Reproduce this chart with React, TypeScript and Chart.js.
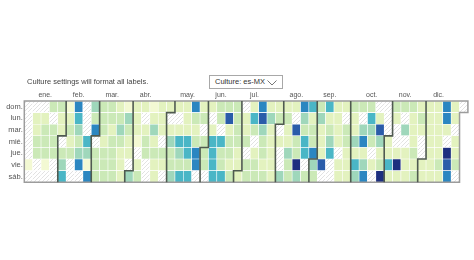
import React, { useEffect, useRef } from 'react';
import { Chart, registerables } from 'chart.js';

Chart.register(...registerables);

const YEAR = 2017;
const titleText = 'Culture settings will format all labels.';
const cultureText = 'Culture: es-MX';
const dayLabels = ['dom.', 'lun.', 'mar.', 'mié.', 'jue.', 'vie.', 'sáb.'];
const monthLabels = ['ene.', 'feb.', 'mar.', 'abr.', 'may.', 'jun.', 'jul.', 'ago.', 'sep.', 'oct.', 'nov.', 'dic.'];

const _ = null;
// daily values per month (null = no data)
const ene = [_, _, _, _, _, 10, _, _, 22, 22, 34, 34, _, _, _, 22, 34, 34, 34, 10, _, 34, _, 34, 34, 34, _, _, 34, 22, 22];
const feb = [_, 34, 46, 58, 10, 22, 34, 22, 34, _, _, 70, 58, 46, 34, 46, 70, _, _, _, _, 58, 46, 10, 70, 46, 34, 70];
const mar = [_, 34, 34, 34, 34, 34, 34, 22, 34, 34, 34, 34, 34, 22, 34, 34, 34, 34, 22, 34, 46, 34, 22, 22, 22, 10, 46, 34, 22, 22, _];
const abr = [46, 22, 22, 22, 10, _, 22, 34, 22, _, 22, 34, 34, _, _, 10, 22, 46, 22, 34, 22, 22, 22, 22, 22, _, 34, 22, _, 22];
const may = [_, 22, 46, 34, 34, 46, 22, _, 22, 58, 46, 34, 58, 22, 22, 22, 58, 58, 34, 58, 70, 34, 22, 34, 70, 70, _, 22, 34, _, 34];
const jun = [34, 34, _, 22, _, 22, 58, 58, 58, 58, 34, 34, _, 58, 34, 34, 58, 34, 82, 22, 34, 34, 22, 34, 34, 34, 34, 34, 22, 22];
const jul = [22, _, 22, 22, 34, _, 34, 34, 22, 58, 34, _, 22, 34, 34, 70, 82, 46, 34, 34, 22, 34, 22, 46, 22, 22, 22, 22, 22, 22, 34];
const ago = [_, 22, _, _, 46, 22, 34, 22, 22, 46, 34, 34, 22, _, 82, 34, 34, 94, 46, 70, 46, 34, 58, 58, _, 34, 58, 22, 34, 34, 70];
const sep = [46, 34, 34, 46, 22, 22, 22, 82, _, 58, 22, 34, 46, 58, _, _, 22, 22, 22, 22, _, 22, 22, 22, _, 34, 34, 22, 22, 22];
const oct = [34, 22, 22, 46, 22, 58, 46, 34, _, 46, 70, 22, 46, 70, 34, 58, 46, 34, _, 22, _, _, 22, 82, 46, 22, 34, 94, _, _, _];
const nov = [22, 22, 58, 22, 34, 22, _, _, 22, 94, 22, 34, _, 46, _, 22, 22, 22, 34, 22, 22, 22, 34, 22, 34, 22, 34, 22, _, _];
const dic = [22, 22, 22, 22, 22, 22, 22, 22, 22, 22, 22, 22, 22, 22, 34, 22, 70, 70, 22, _, 94, 82, 70, 22, 22, _, 22, 22, 34, _, _];

const months = [ene, feb, mar, abr, may, jun, jul, ago, sep, oct, nov, dic];

const levelColors = ['#f3f9d3', '#e3f2bf', '#cbe9b7', '#9fd7bb', '#4ab6c6', '#2b86c1', '#2a5ca9', '#1d2f7f'];
const thresholds = [16, 28, 40, 52, 64, 76, 88];

const FONT = "'Liberation Sans', Arial, sans-serif";

function makeHatch(): CanvasPattern | string {
  const c = document.createElement('canvas');
  c.width = 4;
  c.height = 4;
  const g = c.getContext('2d');
  if (!g) return '#fff';
  g.fillStyle = '#ffffff';
  g.fillRect(0, 0, 4, 4);
  g.strokeStyle = '#e2e2e2';
  g.lineWidth = 1;
  g.beginPath();
  g.moveTo(0, 4); g.lineTo(4, 0);
  g.moveTo(-1, 1); g.lineTo(1, -1);
  g.moveTo(3, 5); g.lineTo(5, 3);
  g.stroke();
  return g.createPattern(c, 'repeat') || '#fff';
}

export default function App() {
  const ref = useRef<HTMLCanvasElement | null>(null);

  useEffect(() => {
    if (!ref.current) return;
    const hatch = makeHatch();
    const colorFor = (v: number | null) => {
      if (v == null) return hatch;
      let i = 0;
      while (i < thresholds.length && v >= thresholds[i]) i++;
      return levelColors[i];
    };
    const startDow = new Date(YEAR, 0, 1).getDay();
    const dayMs = 864e5;
    const monthStart = months.map((__, m) => Math.round((Date.UTC(YEAR, m, 1) - Date.UTC(YEAR, 0, 1)) / dayMs));
    const totalDays = months.reduce((s, a) => s + a.length, 0);
    const numWeeks = Math.floor((startDow + totalDays - 1) / 7) + 1;

    const points: any[] = [];
    months.forEach((arr, m) => {
      arr.forEach((v, i) => {
        const idx = startDow + monthStart[m] + i;
        const r = idx % 7;
        points.push({ x: Math.floor(idx / 7), y: [r, r + 1], v });
      });
    });
    const monthTicks = months.map((__, m) => Math.floor((startDow + monthStart[m] + 14) / 7));

    const borderPlugin = {
      id: 'calendarBorders',
      afterDatasetsDraw(chart: any) {
        const xs = chart.scales.x;
        const ys = chart.scales.y;
        const X = (c: number) => xs.getPixelForValue(c - 0.5);
        const Y = (r: number) => ys.getPixelForValue(r);
        const ctx = chart.ctx;
        ctx.save();
        const firstR = startDow % 7;
        const lastIdx = startDow + totalDays - 1;
        const lastC = Math.floor(lastIdx / 7);
        const lastR = lastIdx % 7;
        ctx.strokeStyle = '#9c9c9c';
        ctx.lineWidth = 1.5;
        ctx.beginPath();
        if (firstR === 0) {
          ctx.moveTo(X(0), Y(0));
        } else {
          ctx.moveTo(X(0), Y(firstR));
          ctx.lineTo(X(1), Y(firstR));
          ctx.lineTo(X(1), Y(0));
        }
        ctx.lineTo(X(lastC + 1), Y(0));
        if (lastR === 6) {
          ctx.lineTo(X(lastC + 1), Y(7));
        } else {
          ctx.lineTo(X(lastC + 1), Y(lastR + 1));
          ctx.lineTo(X(lastC), Y(lastR + 1));
          ctx.lineTo(X(lastC), Y(7));
        }
        ctx.lineTo(X(0), Y(7));
        ctx.closePath();
        ctx.stroke();
        ctx.strokeStyle = '#4f5a50';
        ctx.lineWidth = 1.6;
        for (let m = 1; m < months.length; m++) {
          const idx = startDow + monthStart[m];
          const c = Math.floor(idx / 7);
          const r = idx % 7;
          ctx.beginPath();
          if (r === 0) {
            ctx.moveTo(X(c), Y(0));
            ctx.lineTo(X(c), Y(7));
          } else {
            ctx.moveTo(X(c + 1), Y(0));
            ctx.lineTo(X(c + 1), Y(r));
            ctx.lineTo(X(c), Y(r));
            ctx.lineTo(X(c), Y(7));
          }
          ctx.stroke();
        }
        ctx.restore();
      },
    };

    const chart = new Chart(ref.current, {
      type: 'bar',
      data: {
        datasets: [
          {
            data: points,
            backgroundColor: (c: any) => colorFor(c.raw ? c.raw.v : null),
            borderColor: '#ffffff',
            borderWidth: 0.6,
            borderSkipped: false,
            categoryPercentage: 1,
            barPercentage: 1,
          } as any,
        ],
      },
      options: {
        animation: false,
        responsive: false,
        devicePixelRatio: 1,
        events: [],
        layout: { padding: { left: 0, top: 0, right: 6.1, bottom: 77.7 } },
        plugins: {
          legend: { display: false },
          tooltip: { enabled: false },
          title: { display: false },
        },
        scales: {
          x: {
            type: 'linear',
            position: 'top',
            min: -0.5,
            max: numWeeks - 0.5,
            offset: false,
            grid: { display: false, drawTicks: false },
            border: { display: false },
            afterBuildTicks: (s: any) => {
              s.ticks = monthTicks.map((value) => ({ value }));
            },
            afterFit: (s: any) => {
              s.height = 101;
            },
            ticks: {
              autoSkip: false,
              maxRotation: 0,
              padding: 2,
              color: '#555',
              font: { family: FONT, size: 7 },
              callback: (_v: any, i: number) => monthLabels[i],
            },
          },
          y: {
            type: 'linear',
            min: 0,
            max: 7,
            reverse: true,
            grid: { display: false, drawTicks: false },
            border: { display: false },
            afterBuildTicks: (s: any) => {
              s.ticks = dayLabels.map((__, i) => ({ value: i + 0.5 }));
            },
            afterFit: (s: any) => {
              s.width = 24.3;
            },
            ticks: {
              autoSkip: false,
              padding: 1.5,
              color: '#555',
              font: { family: FONT, size: 7.5 },
              callback: (_v: any, i: number) => dayLabels[i],
            },
          },
        },
      } as any,
      plugins: [borderPlugin],
    });
    return () => chart.destroy();
  }, []);

  return (
    <div style={{ position: 'absolute', left: 0, top: 0, width: 474, height: 260, background: '#fff', overflow: 'hidden' }}>
      <canvas ref={ref} width={474} height={260} style={{ position: 'absolute', left: 0, top: 0, width: 474, height: 260 }} />
      <div
        style={{
          position: 'absolute',
          left: 27,
          top: 77,
          fontFamily: FONT,
          fontSize: 7.5,
          lineHeight: '10px',
          color: '#444',
          whiteSpace: 'nowrap',
        }}
      >
        {titleText}
      </div>
      <div
        style={{
          position: 'absolute',
          left: 209,
          top: 75,
          width: 74,
          height: 14,
          boxSizing: 'border-box',
          border: '1px solid #a8a8a8',
          background: '#fff',
          fontFamily: FONT,
          fontSize: 7.5,
          lineHeight: '12px',
          color: '#333',
          paddingLeft: 5,
          whiteSpace: 'nowrap',
        }}
      >
        {cultureText}
        <svg style={{ position: 'absolute', right: 5, top: 4 }} width="10" height="6">
          <polyline points="0.5,0.5 5,5 9.5,0.5" fill="none" stroke="#777" strokeWidth="1" />
        </svg>
      </div>
    </div>
  );
}
